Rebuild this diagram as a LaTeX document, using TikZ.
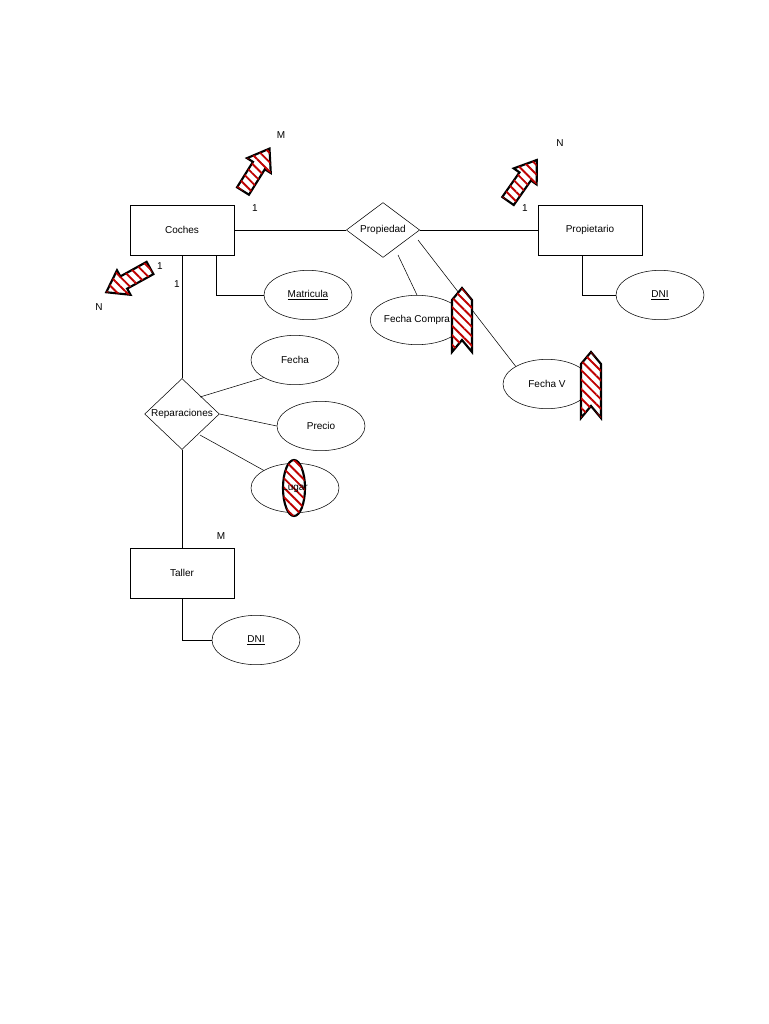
\documentclass[tikz,border=0pt]{standalone}
\usepackage{fontspec}
\setmainfont{Liberation Sans}
\usetikzlibrary{shapes.geometric,patterns.meta}
\begin{document}
\begin{tikzpicture}[x=0.75pt,y=-0.75pt,font=\fontsize{7.5}{9}\selectfont,
  ent/.style={draw,minimum width=78pt,minimum height=37.5pt,inner sep=0pt},
  rel/.style={draw,diamond,aspect=1,minimum width=#1,inner sep=0pt},
  attr/.style={draw,ellipse,minimum width=66pt,minimum height=37pt,inner sep=0pt},
  hatch/.style={draw=black,line width=1.6pt,fill=white,postaction={pattern={Lines[angle=-45,distance=5pt,line width=1.4pt]},pattern color=red!75!black}},
  lbl/.style={inner sep=1pt}]
\path[fill=white] (0,0) rectangle (768,1024);
\node[ent] (coches) at (182,230) {Coches};
\node[ent] (prop) at (590,230) {Propietario};
\node[ent] (taller) at (182,573) {Taller};
\node[rel=55pt] (propiedad) at (383,230) {Propiedad};
\node[rel=56pt] (rep) at (182,414) {Reparaciones};
\node[attr] (matr) at (308,295) {\underline{Matricula}};
\node[attr] (dni1) at (660,295) {\underline{DNI}};
\node[attr] (fc) at (417,320) {Fecha Compra};
\node[attr] (fv) at (547,384) {Fecha V};
\node[attr] (fecha) at (295,360) {Fecha};
\node[attr] (precio) at (321,426) {Precio};
\node[attr] (lugar) at (295,488) {};
\draw (coches) -- (propiedad) -- (prop);
\draw (216,255) |- (matr.west);
\draw (582,255) |- (dni1.west);
\draw (398,255) -- (fc.north);
\draw (418,240) -- (fv.north west);
\draw (coches.south) -- (rep.north);
\draw (rep.south) -- (taller.north);
\draw (200,397) -- (fecha.south west);
\draw (rep.east) -- (precio.west);
\draw (200,435) -- (lugar.north west);
\node[lbl] (m1) at (281,135) {M};
\node[lbl] (o1) at (255,208) {1};
\node[lbl] (n1) at (560,143) {N};
\node[lbl] (o2) at (525,208) {1};
\node[lbl] (o3) at (160,266) {1};
\node[lbl] (o4) at (177,284) {1};
\node[lbl] (n2) at (99,307) {N};
\node[lbl] (m2) at (221,536) {M};
\node[attr] (dni2) at (256,640) {\underline{DNI}};
\draw (taller.south) |- (dni2.west);
\foreach \p/\a in {{(243,191)}/58,{(508,201)}/55,{(150,268)}/-151}
  \draw[hatch,shift={\p},rotate=\a] (0,-7)--(30,-7)--(30,-14)--(50,0)--(30,14)--(30,7)--(0,7)--cycle;
\draw[hatch] (452,352)--(452,300)--(462,288)--(472,300)--(472,352)--(462,340)--cycle;
\draw[hatch] (581,418)--(581,364)--(591,352)--(601,364)--(601,418)--(591,406)--cycle;
\draw[hatch] (294,488) ellipse[x radius=11,y radius=28];
\node (lugartxt) at (295,488) {Lugar};
\end{tikzpicture}
\end{document}
